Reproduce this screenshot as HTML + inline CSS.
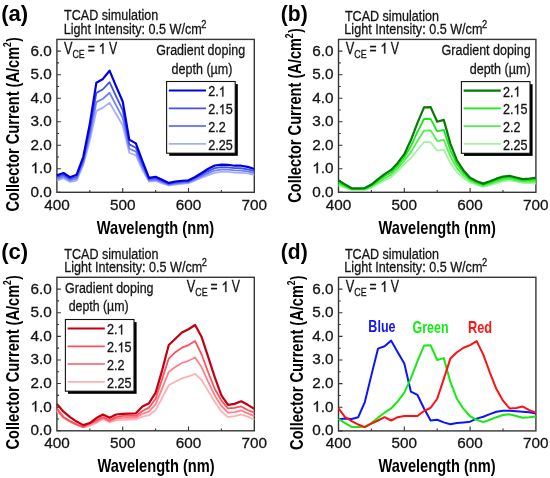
<!DOCTYPE html><html><head><meta charset="utf-8"><style>html,body{margin:0;padding:0;background:#fff;}svg{display:block;will-change:transform;font-family:"Liberation Sans",sans-serif;}</style></head><body>
<svg width="550" height="478" viewBox="0 0 550 478" font-family="Liberation Sans, sans-serif">
<rect width="550" height="478" fill="#fff"/>
<text x="1.20" y="20.50" font-size="21.50" textLength="27.00" lengthAdjust="spacingAndGlyphs" font-weight="bold" fill="#000">(a)</text>
<text x="64.12" y="19.90" font-size="15.20" stroke="#141414" stroke-width="0.30" textLength="94.09" lengthAdjust="spacingAndGlyphs" fill="#141414">TCAD simulation</text>
<text x="63.76" y="34.20" font-size="15.20" stroke="#141414" stroke-width="0.30" textLength="138.08" lengthAdjust="spacingAndGlyphs" fill="#141414">Light Intensity: 0.5 W/cm</text>
<text x="201.34" y="28.00" font-size="10.00" stroke="#141414" stroke-width="0.30" textLength="5.13" lengthAdjust="spacingAndGlyphs" fill="#141414">2</text>
<text x="30.61" y="196.70" font-size="15.30" stroke="#141414" stroke-width="0.30" textLength="21.27" lengthAdjust="spacingAndGlyphs" fill="#141414">0.0</text>
<path d="M763 0H583V1102Q518 1043 412 983Q307 924 223 894V1061Q374 1129 487 1226Q600 1323 647 1415H763Z" transform="translate(30.607,173.177) scale(0.00747,-0.00747)" fill="#141414" stroke="#141414" stroke-width="0.30" vector-effect="non-scaling-stroke"/>
<text x="30.61" y="173.18" font-size="15.30" stroke="#141414" stroke-width="0.30" textLength="21.27" lengthAdjust="spacingAndGlyphs" fill="#141414"> .0</text>
<text x="30.61" y="149.65" font-size="15.30" stroke="#141414" stroke-width="0.30" textLength="21.27" lengthAdjust="spacingAndGlyphs" fill="#141414">2.0</text>
<text x="30.61" y="126.13" font-size="15.30" stroke="#141414" stroke-width="0.30" textLength="21.27" lengthAdjust="spacingAndGlyphs" fill="#141414">3.0</text>
<text x="30.61" y="102.61" font-size="15.30" stroke="#141414" stroke-width="0.30" textLength="21.27" lengthAdjust="spacingAndGlyphs" fill="#141414">4.0</text>
<text x="30.61" y="79.08" font-size="15.30" stroke="#141414" stroke-width="0.30" textLength="21.27" lengthAdjust="spacingAndGlyphs" fill="#141414">5.0</text>
<text x="30.61" y="55.56" font-size="15.30" stroke="#141414" stroke-width="0.30" textLength="21.27" lengthAdjust="spacingAndGlyphs" fill="#141414">6.0</text>
<text x="44.26" y="209.60" font-size="15.30" stroke="#141414" stroke-width="0.30" textLength="25.53" lengthAdjust="spacingAndGlyphs" fill="#141414">400</text>
<text x="109.92" y="209.60" font-size="15.30" stroke="#141414" stroke-width="0.30" textLength="25.53" lengthAdjust="spacingAndGlyphs" fill="#141414">500</text>
<text x="175.65" y="209.60" font-size="15.30" stroke="#141414" stroke-width="0.30" textLength="25.53" lengthAdjust="spacingAndGlyphs" fill="#141414">600</text>
<text x="241.45" y="209.60" font-size="15.30" stroke="#141414" stroke-width="0.30" textLength="25.53" lengthAdjust="spacingAndGlyphs" fill="#141414">700</text>
<path d="M56.90 192.30h4M56.90 180.54h2.2M56.90 168.78h4M56.90 157.02h2.2M56.90 145.25h4M56.90 133.49h2.2M56.90 121.73h4M56.90 109.97h2.2M56.90 98.21h4M56.90 86.45h2.2M56.90 74.68h4M56.90 62.92h2.2M56.90 51.16h4M122.70 192.30v-4.3M188.50 192.30v-4.3M89.80 192.30v-2.3M155.60 192.30v-2.3M221.40 192.30v-2.3" stroke="#363636" stroke-width="1.1" fill="none"/>
<rect x="56.90" y="39.40" width="197.40" height="152.90" fill="none" stroke="#363636" stroke-width="1.4"/>
<text x="96.80" y="233.60" font-size="17.80" textLength="117.25" lengthAdjust="spacingAndGlyphs" font-weight="bold" fill="#000">Wavelength (nm)</text>
<g transform="translate(19.40,211.00) rotate(-90)">
<text x="-0.58" y="0" font-size="17.6" font-weight="bold" fill="#000" textLength="164.79" lengthAdjust="spacingAndGlyphs">Collector Current (A/cm</text>
<text x="164.00" y="-8.0" font-size="10" font-weight="bold" fill="#000" textLength="4.73" lengthAdjust="spacingAndGlyphs">2</text>
<text x="169.37" y="0" font-size="17.6" font-weight="bold" fill="#000" textLength="4.28" lengthAdjust="spacingAndGlyphs">)</text>
</g>
<text x="63.94" y="53.80" font-size="15.60" stroke="#141414" stroke-width="0.30" textLength="8.52" lengthAdjust="spacingAndGlyphs" fill="#141414">V</text>
<text x="72.46" y="57.70" font-size="10.60" stroke="#141414" stroke-width="0.30" textLength="12.31" lengthAdjust="spacingAndGlyphs" fill="#141414">CE</text>
<text x="87.63" y="53.80" font-size="15.60" stroke="#141414" stroke-width="0.30" textLength="7.07" lengthAdjust="spacingAndGlyphs" fill="#141414">=</text>
<path d="M763 0H583V1102Q518 1043 412 983Q307 924 223 894V1061Q374 1129 487 1226Q600 1323 647 1415H763Z" transform="translate(98.555,53.800) scale(0.00648,-0.00762)" fill="#141414" stroke="#141414" stroke-width="0.30" vector-effect="non-scaling-stroke"/>
<text x="108.94" y="53.80" font-size="15.60" stroke="#141414" stroke-width="0.30" textLength="8.22" lengthAdjust="spacingAndGlyphs" fill="#141414">V</text>
<text x="156.28" y="54.70" font-size="15.30" stroke="#141414" stroke-width="0.30" textLength="88.82" lengthAdjust="spacingAndGlyphs" fill="#141414">Gradient doping</text>
<text x="171.57" y="73.60" font-size="15.30" stroke="#141414" stroke-width="0.30" textLength="60.89" lengthAdjust="spacingAndGlyphs" fill="#141414">depth (µm)</text>
<polyline points="56.90,180.54 63.48,178.19 70.06,181.95 76.64,180.54 83.22,165.25 89.80,140.55 96.38,110.91 102.96,107.62 109.54,102.68 116.12,113.97 122.70,125.26 129.28,152.78 135.86,155.37 142.44,169.95 149.02,181.48 155.60,181.01 162.18,183.36 168.76,185.48 175.34,184.54 181.92,183.83 188.50,183.13 195.08,180.54 201.66,177.72 208.24,175.13 214.82,172.78 221.40,171.83 227.98,171.83 234.56,172.54 241.14,172.78 247.72,173.48 254.30,174.89" fill="none" stroke="#a6b0f6" stroke-width="1.80" stroke-linejoin="round"/>
<polyline points="56.90,178.93 63.48,176.58 70.06,180.49 76.64,178.72 83.22,162.70 89.80,135.44 96.38,102.16 102.96,98.72 109.54,92.76 116.12,105.44 122.70,117.89 129.28,148.70 135.86,151.65 142.44,167.18 149.02,180.39 155.60,179.70 162.18,182.27 168.76,184.68 175.34,183.59 181.92,182.88 188.50,182.25 195.08,179.44 201.66,176.26 208.24,173.16 214.82,170.52 221.40,169.57 227.98,169.65 234.56,170.43 241.14,170.59 247.72,171.44 254.30,173.07" fill="none" stroke="#7282f4" stroke-width="1.80" stroke-linejoin="round"/>
<polyline points="56.90,177.23 63.48,174.87 70.06,178.94 76.64,176.77 83.22,159.98 89.80,130.01 96.38,92.84 102.96,89.25 109.54,82.20 116.12,96.35 122.70,110.05 129.28,144.35 135.86,147.69 142.44,164.23 149.02,179.22 155.60,178.30 162.18,181.10 168.76,183.82 175.34,182.58 181.92,181.87 188.50,181.32 195.08,178.28 201.66,174.70 208.24,171.06 214.82,168.11 221.40,167.17 227.98,167.32 234.56,168.17 241.14,168.26 247.72,169.27 254.30,171.13" fill="none" stroke="#4050f2" stroke-width="1.80" stroke-linejoin="round"/>
<polyline points="56.90,175.36 63.48,173.01 70.06,177.25 76.64,174.66 83.22,157.02 89.80,124.08 96.38,82.68 102.96,78.92 109.54,70.69 116.12,86.45 122.70,101.50 129.28,139.61 135.86,143.37 142.44,161.01 149.02,177.95 155.60,176.77 162.18,179.83 168.76,182.89 175.34,181.48 181.92,180.77 188.50,180.30 195.08,177.01 201.66,173.01 208.24,168.78 214.82,165.48 221.40,164.54 227.98,164.78 234.56,165.72 241.14,165.72 247.72,166.90 254.30,169.01" fill="none" stroke="#0000e0" stroke-width="2.20" stroke-linejoin="round"/>
<rect x="169.20" y="84.10" width="68.60" height="71.70" fill="#000"/>
<rect x="166.60" y="81.50" width="68.60" height="71.70" fill="#fff" stroke="#111" stroke-width="1.1"/>
<path d="M168.80 90.50H206.00" stroke="#0000e0" stroke-width="2.20"/>
<path d="M763 0H583V1102Q518 1043 412 983Q307 924 223 894V1061Q374 1129 487 1226Q600 1323 647 1415H763Z" transform="translate(218.690,96.400) scale(0.00616,-0.00708)" fill="#141414" stroke="#141414" stroke-width="0.30" vector-effect="non-scaling-stroke"/>
<text x="208.17" y="96.40" font-size="14.50" stroke="#141414" stroke-width="0.30" textLength="17.54" lengthAdjust="spacingAndGlyphs" fill="#141414">2. </text>
<path d="M168.80 108.30H206.00" stroke="#4050f2" stroke-width="1.80"/>
<path d="M763 0H583V1102Q518 1043 412 983Q307 924 223 894V1061Q374 1129 487 1226Q600 1323 647 1415H763Z" transform="translate(218.690,114.200) scale(0.00616,-0.00708)" fill="#141414" stroke="#141414" stroke-width="0.30" vector-effect="non-scaling-stroke"/>
<text x="208.17" y="114.20" font-size="14.50" stroke="#141414" stroke-width="0.30" textLength="24.55" lengthAdjust="spacingAndGlyphs" fill="#141414">2. 5</text>
<path d="M168.80 126.00H206.00" stroke="#7282f4" stroke-width="1.80"/>
<text x="208.17" y="131.90" font-size="14.50" stroke="#141414" stroke-width="0.30" textLength="17.54" lengthAdjust="spacingAndGlyphs" fill="#141414">2.2</text>
<path d="M168.80 143.80H206.00" stroke="#a6b0f6" stroke-width="1.80"/>
<text x="208.17" y="149.70" font-size="14.50" stroke="#141414" stroke-width="0.30" textLength="24.55" lengthAdjust="spacingAndGlyphs" fill="#141414">2.25</text>
<text x="280.75" y="20.50" font-size="21.50" textLength="26.89" lengthAdjust="spacingAndGlyphs" font-weight="bold" fill="#000">(b)</text>
<text x="344.92" y="21.00" font-size="15.20" stroke="#141414" stroke-width="0.30" textLength="94.09" lengthAdjust="spacingAndGlyphs" fill="#141414">TCAD simulation</text>
<text x="344.36" y="34.40" font-size="15.20" stroke="#141414" stroke-width="0.30" textLength="138.08" lengthAdjust="spacingAndGlyphs" fill="#141414">Light Intensity: 0.5 W/cm</text>
<text x="481.94" y="28.20" font-size="10.00" stroke="#141414" stroke-width="0.30" textLength="5.13" lengthAdjust="spacingAndGlyphs" fill="#141414">2</text>
<text x="312.21" y="196.70" font-size="15.30" stroke="#141414" stroke-width="0.30" textLength="21.27" lengthAdjust="spacingAndGlyphs" fill="#141414">0.0</text>
<path d="M763 0H583V1102Q518 1043 412 983Q307 924 223 894V1061Q374 1129 487 1226Q600 1323 647 1415H763Z" transform="translate(312.207,173.177) scale(0.00747,-0.00747)" fill="#141414" stroke="#141414" stroke-width="0.30" vector-effect="non-scaling-stroke"/>
<text x="312.21" y="173.18" font-size="15.30" stroke="#141414" stroke-width="0.30" textLength="21.27" lengthAdjust="spacingAndGlyphs" fill="#141414"> .0</text>
<text x="312.21" y="149.65" font-size="15.30" stroke="#141414" stroke-width="0.30" textLength="21.27" lengthAdjust="spacingAndGlyphs" fill="#141414">2.0</text>
<text x="312.21" y="126.13" font-size="15.30" stroke="#141414" stroke-width="0.30" textLength="21.27" lengthAdjust="spacingAndGlyphs" fill="#141414">3.0</text>
<text x="312.21" y="102.61" font-size="15.30" stroke="#141414" stroke-width="0.30" textLength="21.27" lengthAdjust="spacingAndGlyphs" fill="#141414">4.0</text>
<text x="312.21" y="79.08" font-size="15.30" stroke="#141414" stroke-width="0.30" textLength="21.27" lengthAdjust="spacingAndGlyphs" fill="#141414">5.0</text>
<text x="312.21" y="55.56" font-size="15.30" stroke="#141414" stroke-width="0.30" textLength="21.27" lengthAdjust="spacingAndGlyphs" fill="#141414">6.0</text>
<text x="325.86" y="209.60" font-size="15.30" stroke="#141414" stroke-width="0.30" textLength="25.53" lengthAdjust="spacingAndGlyphs" fill="#141414">400</text>
<text x="391.52" y="209.60" font-size="15.30" stroke="#141414" stroke-width="0.30" textLength="25.53" lengthAdjust="spacingAndGlyphs" fill="#141414">500</text>
<text x="457.25" y="209.60" font-size="15.30" stroke="#141414" stroke-width="0.30" textLength="25.53" lengthAdjust="spacingAndGlyphs" fill="#141414">600</text>
<text x="523.05" y="209.60" font-size="15.30" stroke="#141414" stroke-width="0.30" textLength="25.53" lengthAdjust="spacingAndGlyphs" fill="#141414">700</text>
<path d="M338.50 192.30h4M338.50 180.54h2.2M338.50 168.78h4M338.50 157.02h2.2M338.50 145.25h4M338.50 133.49h2.2M338.50 121.73h4M338.50 109.97h2.2M338.50 98.21h4M338.50 86.45h2.2M338.50 74.68h4M338.50 62.92h2.2M338.50 51.16h4M404.30 192.30v-4.3M470.10 192.30v-4.3M371.40 192.30v-2.3M437.20 192.30v-2.3M503.00 192.30v-2.3" stroke="#363636" stroke-width="1.1" fill="none"/>
<rect x="338.50" y="39.40" width="197.40" height="152.90" fill="none" stroke="#363636" stroke-width="1.4"/>
<text x="378.60" y="233.60" font-size="17.80" textLength="117.25" lengthAdjust="spacingAndGlyphs" font-weight="bold" fill="#000">Wavelength (nm)</text>
<g transform="translate(300.90,202.20) rotate(-90)">
<text x="-0.58" y="0" font-size="17.6" font-weight="bold" fill="#000" textLength="164.79" lengthAdjust="spacingAndGlyphs">Collector Current (A/cm</text>
<text x="164.00" y="-8.0" font-size="10" font-weight="bold" fill="#000" textLength="4.73" lengthAdjust="spacingAndGlyphs">2</text>
<text x="169.37" y="0" font-size="17.6" font-weight="bold" fill="#000" textLength="4.28" lengthAdjust="spacingAndGlyphs">)</text>
</g>
<text x="345.74" y="53.60" font-size="15.60" stroke="#141414" stroke-width="0.30" textLength="8.52" lengthAdjust="spacingAndGlyphs" fill="#141414">V</text>
<text x="354.26" y="57.50" font-size="10.60" stroke="#141414" stroke-width="0.30" textLength="12.31" lengthAdjust="spacingAndGlyphs" fill="#141414">CE</text>
<text x="369.43" y="53.60" font-size="15.60" stroke="#141414" stroke-width="0.30" textLength="7.07" lengthAdjust="spacingAndGlyphs" fill="#141414">=</text>
<path d="M763 0H583V1102Q518 1043 412 983Q307 924 223 894V1061Q374 1129 487 1226Q600 1323 647 1415H763Z" transform="translate(380.355,53.600) scale(0.00648,-0.00762)" fill="#141414" stroke="#141414" stroke-width="0.30" vector-effect="non-scaling-stroke"/>
<text x="390.74" y="53.60" font-size="15.60" stroke="#141414" stroke-width="0.30" textLength="8.22" lengthAdjust="spacingAndGlyphs" fill="#141414">V</text>
<text x="441.57" y="54.80" font-size="15.30" stroke="#141414" stroke-width="0.30" textLength="89.13" lengthAdjust="spacingAndGlyphs" fill="#141414">Gradient doping</text>
<text x="469.67" y="73.90" font-size="15.30" stroke="#141414" stroke-width="0.30" textLength="60.99" lengthAdjust="spacingAndGlyphs" fill="#141414">depth (µm)</text>
<polyline points="338.50,185.71 345.08,187.60 351.66,189.95 358.24,189.95 364.82,189.95 371.40,187.60 377.98,184.07 384.56,180.54 391.14,177.01 397.72,171.13 404.30,164.07 410.88,158.19 417.46,149.96 424.04,142.20 430.62,142.20 437.20,150.66 443.78,149.96 450.36,162.90 456.94,172.31 463.52,178.19 470.10,182.42 476.68,184.77 483.26,186.89 489.84,185.24 496.42,183.36 503.00,181.24 509.58,180.30 516.16,181.71 522.74,182.89 529.32,183.36 535.90,183.60" fill="none" stroke="#a2f2a2" stroke-width="1.80" stroke-linejoin="round"/>
<polyline points="338.50,183.91 345.08,186.58 351.66,189.40 358.24,189.40 364.82,189.32 371.40,186.58 377.98,182.42 384.56,178.42 391.14,174.66 397.72,168.38 404.30,160.78 410.88,152.15 417.46,140.94 424.04,130.59 430.62,130.51 437.20,141.02 443.78,139.92 450.36,156.47 456.94,168.31 463.52,175.60 470.10,180.85 476.68,183.60 483.26,185.79 489.84,183.91 496.42,181.79 503.00,179.68 509.58,178.81 516.16,180.30 522.74,181.64 529.32,181.79 535.90,181.71" fill="none" stroke="#52ee52" stroke-width="1.80" stroke-linejoin="round"/>
<polyline points="338.50,182.11 345.08,185.56 351.66,188.85 358.24,188.85 364.82,188.69 371.40,185.56 377.98,180.77 384.56,176.30 391.14,172.31 397.72,165.64 404.30,157.49 410.88,146.12 417.46,131.92 424.04,118.99 430.62,118.83 437.20,131.38 443.78,129.89 450.36,150.04 456.94,164.31 463.52,173.01 470.10,179.28 476.68,182.42 483.26,184.69 489.84,182.58 496.42,180.22 503.00,178.11 509.58,177.32 516.16,178.89 522.74,180.38 529.32,180.22 535.90,179.83" fill="none" stroke="#12ec12" stroke-width="1.80" stroke-linejoin="round"/>
<polyline points="338.50,180.30 345.08,184.54 351.66,188.30 358.24,188.30 364.82,188.07 371.40,184.54 377.98,179.13 384.56,174.19 391.14,169.95 397.72,162.90 404.30,154.19 410.88,140.08 417.46,122.91 424.04,107.38 430.62,107.15 437.20,121.73 443.78,119.85 450.36,143.61 456.94,160.31 463.52,170.42 470.10,177.72 476.68,181.24 483.26,183.60 489.84,181.24 496.42,178.66 503.00,176.54 509.58,175.83 516.16,177.48 522.74,179.13 529.32,178.66 535.90,177.95" fill="none" stroke="#067a06" stroke-width="2.20" stroke-linejoin="round"/>
<rect x="464.00" y="84.20" width="68.60" height="71.70" fill="#000"/>
<rect x="461.40" y="81.60" width="68.60" height="71.70" fill="#fff" stroke="#111" stroke-width="1.1"/>
<path d="M463.60 90.60H500.80" stroke="#067a06" stroke-width="2.20"/>
<path d="M763 0H583V1102Q518 1043 412 983Q307 924 223 894V1061Q374 1129 487 1226Q600 1323 647 1415H763Z" transform="translate(513.490,96.500) scale(0.00616,-0.00708)" fill="#141414" stroke="#141414" stroke-width="0.30" vector-effect="non-scaling-stroke"/>
<text x="502.97" y="96.50" font-size="14.50" stroke="#141414" stroke-width="0.30" textLength="17.54" lengthAdjust="spacingAndGlyphs" fill="#141414">2. </text>
<path d="M463.60 108.40H500.80" stroke="#12ec12" stroke-width="1.80"/>
<path d="M763 0H583V1102Q518 1043 412 983Q307 924 223 894V1061Q374 1129 487 1226Q600 1323 647 1415H763Z" transform="translate(513.490,114.300) scale(0.00616,-0.00708)" fill="#141414" stroke="#141414" stroke-width="0.30" vector-effect="non-scaling-stroke"/>
<text x="502.97" y="114.30" font-size="14.50" stroke="#141414" stroke-width="0.30" textLength="24.55" lengthAdjust="spacingAndGlyphs" fill="#141414">2. 5</text>
<path d="M463.60 126.10H500.80" stroke="#52ee52" stroke-width="1.80"/>
<text x="502.97" y="132.00" font-size="14.50" stroke="#141414" stroke-width="0.30" textLength="17.54" lengthAdjust="spacingAndGlyphs" fill="#141414">2.2</text>
<path d="M463.60 143.90H500.80" stroke="#a2f2a2" stroke-width="1.80"/>
<text x="502.97" y="149.80" font-size="14.50" stroke="#141414" stroke-width="0.30" textLength="24.55" lengthAdjust="spacingAndGlyphs" fill="#141414">2.25</text>
<text x="1.20" y="258.90" font-size="21.50" textLength="27.00" lengthAdjust="spacingAndGlyphs" font-weight="bold" fill="#000">(c)</text>
<text x="64.32" y="258.80" font-size="15.20" stroke="#141414" stroke-width="0.30" textLength="94.09" lengthAdjust="spacingAndGlyphs" fill="#141414">TCAD simulation</text>
<text x="64.16" y="272.40" font-size="15.20" stroke="#141414" stroke-width="0.30" textLength="138.08" lengthAdjust="spacingAndGlyphs" fill="#141414">Light Intensity: 0.5 W/cm</text>
<text x="201.74" y="266.20" font-size="10.00" stroke="#141414" stroke-width="0.30" textLength="5.13" lengthAdjust="spacingAndGlyphs" fill="#141414">2</text>
<text x="30.61" y="435.20" font-size="15.30" stroke="#141414" stroke-width="0.30" textLength="21.27" lengthAdjust="spacingAndGlyphs" fill="#141414">0.0</text>
<path d="M763 0H583V1102Q518 1043 412 983Q307 924 223 894V1061Q374 1129 487 1226Q600 1323 647 1415H763Z" transform="translate(30.607,411.585) scale(0.00747,-0.00747)" fill="#141414" stroke="#141414" stroke-width="0.30" vector-effect="non-scaling-stroke"/>
<text x="30.61" y="411.58" font-size="15.30" stroke="#141414" stroke-width="0.30" textLength="21.27" lengthAdjust="spacingAndGlyphs" fill="#141414"> .0</text>
<text x="30.61" y="387.97" font-size="15.30" stroke="#141414" stroke-width="0.30" textLength="21.27" lengthAdjust="spacingAndGlyphs" fill="#141414">2.0</text>
<text x="30.61" y="364.35" font-size="15.30" stroke="#141414" stroke-width="0.30" textLength="21.27" lengthAdjust="spacingAndGlyphs" fill="#141414">3.0</text>
<text x="30.61" y="340.74" font-size="15.30" stroke="#141414" stroke-width="0.30" textLength="21.27" lengthAdjust="spacingAndGlyphs" fill="#141414">4.0</text>
<text x="30.61" y="317.12" font-size="15.30" stroke="#141414" stroke-width="0.30" textLength="21.27" lengthAdjust="spacingAndGlyphs" fill="#141414">5.0</text>
<text x="30.61" y="293.51" font-size="15.30" stroke="#141414" stroke-width="0.30" textLength="21.27" lengthAdjust="spacingAndGlyphs" fill="#141414">6.0</text>
<text x="44.26" y="448.10" font-size="15.30" stroke="#141414" stroke-width="0.30" textLength="25.53" lengthAdjust="spacingAndGlyphs" fill="#141414">400</text>
<text x="109.92" y="448.10" font-size="15.30" stroke="#141414" stroke-width="0.30" textLength="25.53" lengthAdjust="spacingAndGlyphs" fill="#141414">500</text>
<text x="175.65" y="448.10" font-size="15.30" stroke="#141414" stroke-width="0.30" textLength="25.53" lengthAdjust="spacingAndGlyphs" fill="#141414">600</text>
<text x="241.45" y="448.10" font-size="15.30" stroke="#141414" stroke-width="0.30" textLength="25.53" lengthAdjust="spacingAndGlyphs" fill="#141414">700</text>
<path d="M56.90 430.80h4M56.90 418.99h2.2M56.90 407.18h4M56.90 395.38h2.2M56.90 383.57h4M56.90 371.76h2.2M56.90 359.95h4M56.90 348.15h2.2M56.90 336.34h4M56.90 324.53h2.2M56.90 312.72h4M56.90 300.92h2.2M56.90 289.11h4M122.70 430.80v-4.3M188.50 430.80v-4.3M89.80 430.80v-2.3M155.60 430.80v-2.3M221.40 430.80v-2.3" stroke="#363636" stroke-width="1.1" fill="none"/>
<rect x="56.90" y="277.30" width="197.40" height="153.50" fill="none" stroke="#363636" stroke-width="1.4"/>
<text x="97.40" y="472.00" font-size="17.80" textLength="117.25" lengthAdjust="spacingAndGlyphs" font-weight="bold" fill="#000">Wavelength (nm)</text>
<g transform="translate(19.40,449.00) rotate(-90)">
<text x="-0.58" y="0" font-size="17.6" font-weight="bold" fill="#000" textLength="164.79" lengthAdjust="spacingAndGlyphs">Collector Current (A/cm</text>
<text x="164.00" y="-8.0" font-size="10" font-weight="bold" fill="#000" textLength="4.73" lengthAdjust="spacingAndGlyphs">2</text>
<text x="169.37" y="0" font-size="17.6" font-weight="bold" fill="#000" textLength="4.28" lengthAdjust="spacingAndGlyphs">)</text>
</g>
<text x="186.84" y="292.10" font-size="15.60" stroke="#141414" stroke-width="0.30" textLength="8.52" lengthAdjust="spacingAndGlyphs" fill="#141414">V</text>
<text x="195.36" y="296.00" font-size="10.60" stroke="#141414" stroke-width="0.30" textLength="12.31" lengthAdjust="spacingAndGlyphs" fill="#141414">CE</text>
<text x="210.53" y="292.10" font-size="15.60" stroke="#141414" stroke-width="0.30" textLength="7.07" lengthAdjust="spacingAndGlyphs" fill="#141414">=</text>
<path d="M763 0H583V1102Q518 1043 412 983Q307 924 223 894V1061Q374 1129 487 1226Q600 1323 647 1415H763Z" transform="translate(221.455,292.100) scale(0.00648,-0.00762)" fill="#141414" stroke="#141414" stroke-width="0.30" vector-effect="non-scaling-stroke"/>
<text x="231.84" y="292.10" font-size="15.60" stroke="#141414" stroke-width="0.30" textLength="8.22" lengthAdjust="spacingAndGlyphs" fill="#141414">V</text>
<text x="65.08" y="293.10" font-size="15.30" stroke="#141414" stroke-width="0.30" textLength="88.42" lengthAdjust="spacingAndGlyphs" fill="#141414">Gradient doping</text>
<text x="68.68" y="311.30" font-size="15.30" stroke="#141414" stroke-width="0.30" textLength="59.97" lengthAdjust="spacingAndGlyphs" fill="#141414">depth (µm)</text>
<polyline points="56.90,411.20 63.48,417.81 70.06,421.83 76.64,424.90 83.22,427.26 89.80,425.84 96.38,423.01 102.96,419.23 109.54,422.30 116.12,420.17 122.70,419.94 129.28,419.70 135.86,419.46 142.44,416.63 149.02,415.21 155.60,410.02 162.18,397.74 168.76,385.22 175.34,381.68 181.92,378.37 188.50,376.48 195.08,373.89 201.66,380.03 208.24,391.13 214.82,401.99 221.40,411.44 227.98,417.10 234.56,416.16 241.14,414.51 247.72,416.63 254.30,419.70" fill="none" stroke="#ffb0b4" stroke-width="1.80" stroke-linejoin="round"/>
<polyline points="56.90,409.78 63.48,417.46 70.06,421.47 76.64,424.66 83.22,427.14 89.80,424.66 96.38,421.71 102.96,418.17 109.54,421.35 116.12,418.64 122.70,417.93 129.28,417.81 135.86,417.69 142.44,413.80 149.02,411.44 155.60,404.35 162.18,388.29 168.76,371.88 175.34,366.92 181.92,363.02 188.50,360.78 195.08,357.47 201.66,367.27 208.24,381.80 214.82,395.50 221.40,406.00 227.98,412.73 234.56,412.03 241.14,410.49 247.72,413.32 254.30,416.16" fill="none" stroke="#ff8088" stroke-width="1.80" stroke-linejoin="round"/>
<polyline points="56.90,408.37 63.48,417.10 70.06,421.12 76.64,424.42 83.22,427.02 89.80,423.48 96.38,420.41 102.96,417.10 109.54,420.41 116.12,417.10 122.70,415.92 129.28,415.92 135.86,415.92 142.44,410.96 149.02,407.66 155.60,398.68 162.18,378.85 168.76,358.54 175.34,352.16 181.92,347.67 188.50,345.08 195.08,341.06 201.66,354.52 208.24,372.47 214.82,389.00 221.40,400.57 227.98,408.37 234.56,407.89 241.14,406.48 247.72,410.02 254.30,412.62" fill="none" stroke="#ff5060" stroke-width="1.80" stroke-linejoin="round"/>
<polyline points="56.90,403.88 63.48,411.67 70.06,417.10 76.64,421.59 83.22,425.13 89.80,423.01 96.38,418.05 102.96,414.51 109.54,417.81 116.12,414.51 122.70,413.80 129.28,413.56 135.86,413.32 142.44,406.48 149.02,403.17 155.60,392.78 162.18,370.11 168.76,345.08 175.34,338.70 181.92,332.56 188.50,329.25 195.08,325.00 201.66,337.05 208.24,357.12 214.82,377.43 221.40,395.38 227.98,404.82 234.56,403.88 241.14,401.28 247.72,404.82 254.30,408.84" fill="none" stroke="#c2000e" stroke-width="2.20" stroke-linejoin="round"/>
<rect x="68.00" y="322.10" width="68.60" height="71.70" fill="#000"/>
<rect x="65.40" y="319.50" width="68.60" height="71.70" fill="#fff" stroke="#111" stroke-width="1.1"/>
<path d="M67.60 328.50H104.80" stroke="#c2000e" stroke-width="2.20"/>
<path d="M763 0H583V1102Q518 1043 412 983Q307 924 223 894V1061Q374 1129 487 1226Q600 1323 647 1415H763Z" transform="translate(117.490,334.400) scale(0.00616,-0.00708)" fill="#141414" stroke="#141414" stroke-width="0.30" vector-effect="non-scaling-stroke"/>
<text x="106.97" y="334.40" font-size="14.50" stroke="#141414" stroke-width="0.30" textLength="17.54" lengthAdjust="spacingAndGlyphs" fill="#141414">2. </text>
<path d="M67.60 346.30H104.80" stroke="#ff5060" stroke-width="1.80"/>
<path d="M763 0H583V1102Q518 1043 412 983Q307 924 223 894V1061Q374 1129 487 1226Q600 1323 647 1415H763Z" transform="translate(117.490,352.200) scale(0.00616,-0.00708)" fill="#141414" stroke="#141414" stroke-width="0.30" vector-effect="non-scaling-stroke"/>
<text x="106.97" y="352.20" font-size="14.50" stroke="#141414" stroke-width="0.30" textLength="24.55" lengthAdjust="spacingAndGlyphs" fill="#141414">2. 5</text>
<path d="M67.60 364.00H104.80" stroke="#ff8088" stroke-width="1.80"/>
<text x="106.97" y="369.90" font-size="14.50" stroke="#141414" stroke-width="0.30" textLength="17.54" lengthAdjust="spacingAndGlyphs" fill="#141414">2.2</text>
<path d="M67.60 381.80H104.80" stroke="#ffb0b4" stroke-width="1.80"/>
<text x="106.97" y="387.70" font-size="14.50" stroke="#141414" stroke-width="0.30" textLength="24.55" lengthAdjust="spacingAndGlyphs" fill="#141414">2.25</text>
<text x="280.75" y="258.90" font-size="21.50" textLength="26.89" lengthAdjust="spacingAndGlyphs" font-weight="bold" fill="#000">(d)</text>
<text x="344.92" y="258.60" font-size="15.20" stroke="#141414" stroke-width="0.30" textLength="94.09" lengthAdjust="spacingAndGlyphs" fill="#141414">TCAD simulation</text>
<text x="344.36" y="272.00" font-size="15.20" stroke="#141414" stroke-width="0.30" textLength="138.08" lengthAdjust="spacingAndGlyphs" fill="#141414">Light Intensity: 0.5 W/cm</text>
<text x="481.94" y="265.80" font-size="10.00" stroke="#141414" stroke-width="0.30" textLength="5.13" lengthAdjust="spacingAndGlyphs" fill="#141414">2</text>
<text x="312.21" y="435.30" font-size="15.30" stroke="#141414" stroke-width="0.30" textLength="21.27" lengthAdjust="spacingAndGlyphs" fill="#141414">0.0</text>
<path d="M763 0H583V1102Q518 1043 412 983Q307 924 223 894V1061Q374 1129 487 1226Q600 1323 647 1415H763Z" transform="translate(312.207,411.669) scale(0.00747,-0.00747)" fill="#141414" stroke="#141414" stroke-width="0.30" vector-effect="non-scaling-stroke"/>
<text x="312.21" y="411.67" font-size="15.30" stroke="#141414" stroke-width="0.30" textLength="21.27" lengthAdjust="spacingAndGlyphs" fill="#141414"> .0</text>
<text x="312.21" y="388.04" font-size="15.30" stroke="#141414" stroke-width="0.30" textLength="21.27" lengthAdjust="spacingAndGlyphs" fill="#141414">2.0</text>
<text x="312.21" y="364.41" font-size="15.30" stroke="#141414" stroke-width="0.30" textLength="21.27" lengthAdjust="spacingAndGlyphs" fill="#141414">3.0</text>
<text x="312.21" y="340.78" font-size="15.30" stroke="#141414" stroke-width="0.30" textLength="21.27" lengthAdjust="spacingAndGlyphs" fill="#141414">4.0</text>
<text x="312.21" y="317.15" font-size="15.30" stroke="#141414" stroke-width="0.30" textLength="21.27" lengthAdjust="spacingAndGlyphs" fill="#141414">5.0</text>
<text x="312.21" y="293.52" font-size="15.30" stroke="#141414" stroke-width="0.30" textLength="21.27" lengthAdjust="spacingAndGlyphs" fill="#141414">6.0</text>
<text x="325.86" y="448.20" font-size="15.30" stroke="#141414" stroke-width="0.30" textLength="25.53" lengthAdjust="spacingAndGlyphs" fill="#141414">400</text>
<text x="391.52" y="448.20" font-size="15.30" stroke="#141414" stroke-width="0.30" textLength="25.53" lengthAdjust="spacingAndGlyphs" fill="#141414">500</text>
<text x="457.25" y="448.20" font-size="15.30" stroke="#141414" stroke-width="0.30" textLength="25.53" lengthAdjust="spacingAndGlyphs" fill="#141414">600</text>
<text x="523.05" y="448.20" font-size="15.30" stroke="#141414" stroke-width="0.30" textLength="25.53" lengthAdjust="spacingAndGlyphs" fill="#141414">700</text>
<path d="M338.50 430.90h4M338.50 419.08h2.2M338.50 407.27h4M338.50 395.45h2.2M338.50 383.64h4M338.50 371.82h2.2M338.50 360.01h4M338.50 348.19h2.2M338.50 336.38h4M338.50 324.56h2.2M338.50 312.75h4M338.50 300.93h2.2M338.50 289.12h4M404.30 430.90v-4.3M470.10 430.90v-4.3M371.40 430.90v-2.3M437.20 430.90v-2.3M503.00 430.90v-2.3" stroke="#363636" stroke-width="1.1" fill="none"/>
<rect x="338.50" y="277.30" width="197.40" height="153.60" fill="none" stroke="#363636" stroke-width="1.4"/>
<text x="378.40" y="472.10" font-size="17.80" textLength="117.25" lengthAdjust="spacingAndGlyphs" font-weight="bold" fill="#000">Wavelength (nm)</text>
<g transform="translate(303.20,449.30) rotate(-90)">
<text x="-0.58" y="0" font-size="17.6" font-weight="bold" fill="#000" textLength="164.79" lengthAdjust="spacingAndGlyphs">Collector Current (A/cm</text>
<text x="164.00" y="-8.0" font-size="10" font-weight="bold" fill="#000" textLength="4.73" lengthAdjust="spacingAndGlyphs">2</text>
<text x="169.37" y="0" font-size="17.6" font-weight="bold" fill="#000" textLength="4.28" lengthAdjust="spacingAndGlyphs">)</text>
</g>
<text x="345.74" y="291.90" font-size="15.60" stroke="#141414" stroke-width="0.30" textLength="8.52" lengthAdjust="spacingAndGlyphs" fill="#141414">V</text>
<text x="354.26" y="295.80" font-size="10.60" stroke="#141414" stroke-width="0.30" textLength="12.31" lengthAdjust="spacingAndGlyphs" fill="#141414">CE</text>
<text x="369.43" y="291.90" font-size="15.60" stroke="#141414" stroke-width="0.30" textLength="7.07" lengthAdjust="spacingAndGlyphs" fill="#141414">=</text>
<path d="M763 0H583V1102Q518 1043 412 983Q307 924 223 894V1061Q374 1129 487 1226Q600 1323 647 1415H763Z" transform="translate(380.355,291.900) scale(0.00648,-0.00762)" fill="#141414" stroke="#141414" stroke-width="0.30" vector-effect="non-scaling-stroke"/>
<text x="390.74" y="291.90" font-size="15.60" stroke="#141414" stroke-width="0.30" textLength="8.22" lengthAdjust="spacingAndGlyphs" fill="#141414">V</text>
<polyline points="338.50,419.32 345.08,418.61 351.66,419.08 358.24,417.19 364.82,402.07 371.40,375.13 377.98,348.66 384.56,346.30 391.14,340.63 397.72,352.21 404.30,363.55 410.88,391.67 417.46,394.98 424.04,408.45 430.62,420.50 437.20,419.79 443.78,422.39 450.36,424.28 456.94,423.10 463.52,422.39 470.10,421.68 476.68,418.61 483.26,416.72 489.84,414.12 496.42,411.76 503.00,410.81 509.58,410.81 516.16,411.29 522.74,411.76 529.32,412.23 535.90,413.41" fill="none" stroke="#0a14ff" stroke-width="2.00" stroke-linejoin="round"/>
<polyline points="338.50,418.85 345.08,423.10 351.66,426.88 358.24,426.88 364.82,426.65 371.40,423.10 377.98,417.67 384.56,412.70 391.14,408.45 397.72,401.36 404.30,392.62 410.88,378.44 417.46,361.19 424.04,345.59 430.62,345.36 437.20,360.01 443.78,358.12 450.36,381.98 456.94,398.76 463.52,408.92 470.10,416.25 476.68,419.79 483.26,422.16 489.84,419.79 496.42,417.19 503.00,415.07 509.58,414.36 516.16,416.01 522.74,417.67 529.32,417.19 535.90,416.49" fill="none" stroke="#18e818" stroke-width="2.00" stroke-linejoin="round"/>
<polyline points="338.50,408.45 345.08,417.19 351.66,421.21 358.24,424.52 364.82,427.12 371.40,423.57 377.98,420.50 384.56,417.19 391.14,420.50 397.72,417.19 404.30,416.01 410.88,416.01 417.46,416.01 424.04,411.05 430.62,407.74 437.20,398.76 443.78,378.91 450.36,358.59 456.94,352.21 463.52,347.72 470.10,345.12 476.68,341.10 483.26,354.57 489.84,372.53 496.42,389.07 503.00,400.65 509.58,408.45 516.16,407.98 522.74,406.56 529.32,410.10 535.90,412.70" fill="none" stroke="#ff1010" stroke-width="2.00" stroke-linejoin="round"/>
<text x="368.35" y="332.40" font-size="16.20" textLength="27.18" lengthAdjust="spacingAndGlyphs" font-weight="bold" fill="#1414f4">Blue</text>
<text x="412.60" y="332.60" font-size="16.20" textLength="35.95" lengthAdjust="spacingAndGlyphs" font-weight="bold" fill="#10ec10">Green</text>
<text x="468.04" y="332.80" font-size="16.20" textLength="24.11" lengthAdjust="spacingAndGlyphs" font-weight="bold" fill="#ff1414">Red</text>
</svg></body></html>
